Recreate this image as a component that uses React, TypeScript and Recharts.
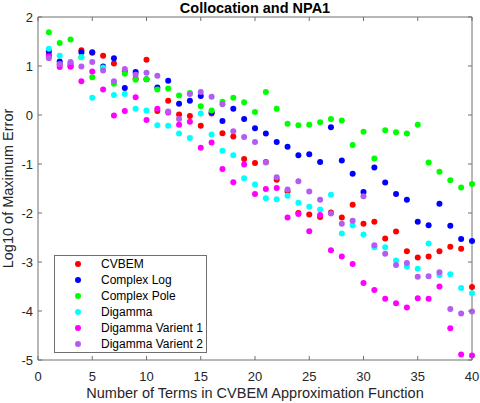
import { ScatterChart, Scatter, XAxis, YAxis, Legend } from "recharts";

// number of terms (x values shared by every series)
const terms = [
  1, 2, 3, 4, 5, 6, 7, 8, 9, 10, 11, 12, 13, 14, 15, 16, 17, 18, 19, 20,
  21, 22, 23, 24, 25, 26, 27, 28, 29, 30, 31, 32, 33, 34, 35, 36, 37, 38, 39, 40,
];

const cvbem = [
  1.23, 1.03, 0.99, 1.32, 1.27, 1.21, 1.05, 0.89, 0.74, 1.13, 0.08, 0.29, 0.01, -0.02, -0.22, 0.03, -0.37, -0.44, -0.9, -0.98,
  -0.96, -1.32, -1.56, -2.0, -2.03, -2.08, -1.99, -2.09, -1.83, -2.22, -2.18, -2.52, -2.38, -2.78, -2.91, -2.89, -2.78, -2.69, -2.73, -3.51,
];
const complexLog = [
  1.3, 1.09, 1.04, 1.28, 1.28, 0.99, 1.16, 0.55, 0.88, 0.73, 0.56, 0.7, 0.23, 0.29, 0.39, 0.05, -0.12, 0.13, -0.08, -0.27,
  -0.38, -0.55, -0.65, -0.82, -0.8, -0.96, -0.25, -0.93, -1.2, -1.57, -1.07, -1.38, -1.61, -1.73, -2.18, -2.25, -1.81, -2.26, -2.53, -2.57,
];
const complexPole = [
  1.69, 1.47, 1.54, 1.18, 0.77, 0.97, 0.64, 0.84, 0.72, 0.73, 0.52, 0.54, 0.4, 0.45, 0.18, 0.09, 0.27, 0.35, 0.26, 0.06,
  0.47, 0.13, -0.18, -0.21, -0.2, -0.15, -0.08, -0.11, -0.61, -0.34, -0.89, -0.31, -0.35, -0.38, -0.2, -0.97, -1.16, -1.33, -1.48, -1.41,
];
const digamma = [
  1.35, 1.21, 1.06, 1.18, 0.35, 0.96, 0.41, 0.43, 0.13, 0.09, -0.21, -0.22, -0.38, -0.47, 0.03, -0.4, -0.73, -0.82, -1.29, -1.42,
  -1.7, -1.72, -1.65, -1.79, -1.87, -1.93, -1.63, -2.42, -2.25, -2.44, -2.7, -2.7, -2.97, -3.09, -3.14, -2.62, -3.27, -3.25, -3.53, -3.64,
];
const digammaV1 = [
  1.2, 0.98, 0.99, 0.69, 0.89, 0.52, -0.01, 0.08, 0.36, -0.1, 0.13, 0.05, -0.2, -0.14, -0.67, -0.56, -1.1, -1.37, -1.01, -1.61,
  -1.51, -1.49, -2.09, -2.02, -2.37, -2.04, -2.76, -2.89, -3.04, -3.43, -3.57, -3.75, -3.84, -3.93, -3.74, -3.75, -3.5, -4.35, -4.89, -4.91,
];
const digammaV2 = [
  1.16, 1.04, 1.08, 0.99, 1.08, 0.91, 0.69, 0.94, 0.82, 0.86, 0.8, 0.07, -0.08, 0.43, 0.47, 0.37, 0.22, -0.33, -0.45, -0.55,
  -0.97, -1.27, -1.52, -1.35, -1.56, -1.73, -2.01, -2.22, -2.16, -1.66, -2.66, -2.83, -3.06, -3.02, -3.3, -3.29, -3.21, -3.96, -4.05, -4.01,
];

const xTicks = [0, 5, 10, 15, 20, 25, 30, 35, 40];
const yTicks = [-5, -4, -3, -2, -1, 0, 1, 2];

const SERIES = [
  { name: "CVBEM", values: cvbem, color: "#ff0000" },
  { name: "Complex Log", values: complexLog, color: "#0000ff" },
  { name: "Complex Pole", values: complexPole, color: "#00ff00" },
  { name: "Digamma", values: digamma, color: "#00ffff" },
  { name: "Digamma Varient 1", values: digammaV1, color: "#ff00ff" },
  { name: "Digamma Varient 2", values: digammaV2, color: "#b45cf2" },
];

const TEXT = "#262626";
const AXIS = "#707070";
const FONT = '"Liberation Sans", Arial, Helvetica, sans-serif';

const BottomTick = ({ x, y, payload }: any) => (
  <g>
    <line x1={x} y1={y} x2={x} y2={y - 4} stroke={AXIS} />
    <text x={x} y={y + 21} textAnchor="middle" fontSize={13} fill={TEXT}>
      {payload.value}
    </text>
  </g>
);

const TopTick = ({ x, y }: any) => <line x1={x} y1={y} x2={x} y2={y + 4} stroke={AXIS} />;

const LeftTick = ({ x, y, payload }: any) => (
  <g>
    <line x1={x} y1={y} x2={x + 4} y2={y} stroke={AXIS} />
    <text x={x - 5} y={y + 4.6} textAnchor="end" fontSize={13} fill={TEXT}>
      {payload.value}
    </text>
  </g>
);

const RightTick = ({ x, y }: any) => <line x1={x} y1={y} x2={x - 4} y2={y} stroke={AXIS} />;

const LegendBox = ({ payload }: any) => (
  <div
    style={{
      width: 153,
      height: 98,
      boxSizing: "border-box",
      border: `1px solid ${AXIS}`,
      background: "#fff",
      fontFamily: FONT,
      fontSize: 12,
      color: "#000",
    }}
  >
    {(payload || [])
      .filter((item: any) => item.type !== "none")
      .map((item: any) => (
        <div key={item.value} style={{ height: 16, display: "flex", alignItems: "center" }}>
          <svg width={46} height={16} style={{ flex: "none" }}>
            <circle cx={23} cy={8} r={3} fill={item.color} />
          </svg>
          <span style={{ whiteSpace: "nowrap", lineHeight: "16px" }}>{item.value}</span>
        </div>
      ))}
  </div>
);

const dot = (color: string) => (p: any) => <circle cx={p.cx} cy={p.cy} r={3} fill={color} />;

// the top / right axes only draw the box and inward ticks; this series binds them and draws nothing
const frameData = terms.map((t, i) => ({ x: t, y: cvbem[i] }));

export default function App() {
  return (
    <div style={{ position: "absolute", left: 0, top: 0, width: 480, height: 403, background: "#fff", fontFamily: FONT }}>
      <ScatterChart width={480} height={403} margin={{ top: 16, right: 7, bottom: 0, left: 0 }}>
        <XAxis
          xAxisId="b"
          type="number"
          dataKey="x"
          domain={[0, 40]}
          ticks={xTicks}
          height={43}
          tickSize={0}
          tickMargin={0}
          tick={<BottomTick />}
          axisLine={{ stroke: AXIS }}
          label={{ value: "Number of Terms in CVBEM Approximation Function", position: "insideBottom", offset: 5, fontSize: 14.5, fill: TEXT }}
        />
        <XAxis
          xAxisId="t"
          orientation="top"
          type="number"
          dataKey="x"
          domain={[0, 40]}
          ticks={xTicks}
          height={1}
          tickSize={0}
          tickMargin={0}
          tick={<TopTick />}
          axisLine={{ stroke: AXIS }}
          label={{ value: "Collocation and NPA1", position: "top", offset: 3, fontSize: 14.5, fontWeight: "bold", fill: "#000" }}
        />
        <YAxis
          yAxisId="l"
          type="number"
          dataKey="y"
          domain={[-5, 2]}
          ticks={yTicks}
          width={38}
          tickSize={0}
          tickMargin={0}
          tick={<LeftTick />}
          axisLine={{ stroke: AXIS }}
          label={{ value: "Log10 of Maximum Error", angle: -90, position: "insideLeft", offset: 8, fontSize: 14.5, fill: TEXT, style: { textAnchor: "middle" } }}
        />
        <YAxis
          yAxisId="r"
          orientation="right"
          type="number"
          dataKey="y"
          domain={[-5, 2]}
          ticks={yTicks}
          width={1}
          tickSize={0}
          tickMargin={0}
          tick={<RightTick />}
          axisLine={{ stroke: AXIS }}
        />
        <Legend
          layout="vertical"
          align="center"
          verticalAlign="middle"
          content={<LegendBox />}
          wrapperStyle={{ position: "absolute", left: 54, top: 255, width: 153, height: 98 }}
        />
        <Scatter
          xAxisId="t"
          yAxisId="r"
          data={frameData}
          legendType="none"
          shape={() => <g />}
          isAnimationActive={false}
        />
        {SERIES.map((s) => (
          <Scatter
            key={s.name}
            name={s.name}
            xAxisId="b"
            yAxisId="l"
            data={terms.map((t, i) => ({ x: t, y: s.values[i] }))}
            fill={s.color}
            shape={dot(s.color)}
            isAnimationActive={false}
          />
        ))}
      </ScatterChart>
    </div>
  );
}
